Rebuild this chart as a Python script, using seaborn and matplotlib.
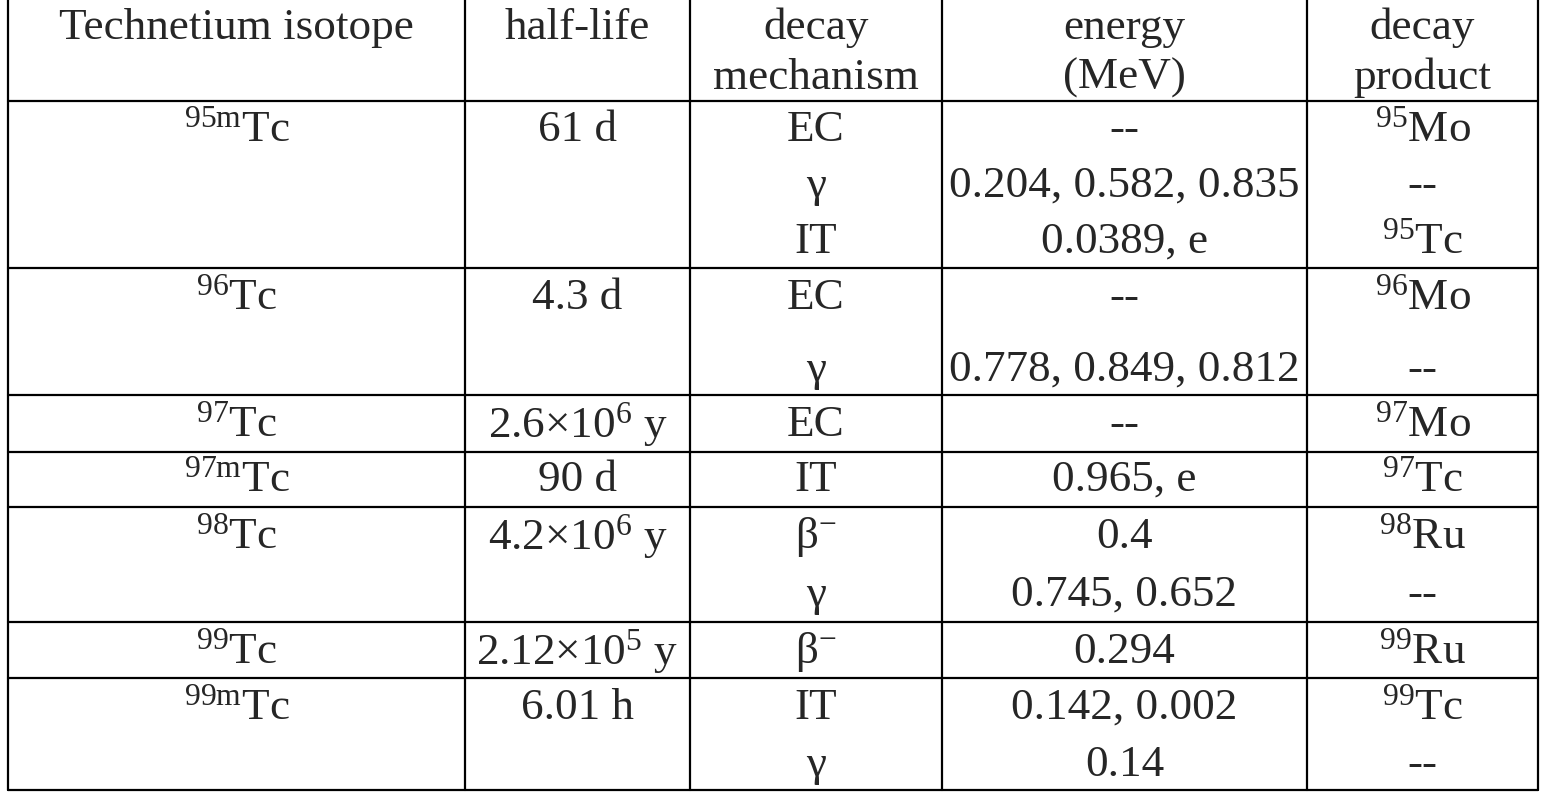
import matplotlib.pyplot as plt
import seaborn as sns

sns.set_theme(style="white")
plt.rcParams["font.family"] = ["Liberation Serif", "DejaVu Serif"]
plt.rcParams["mathtext.fontset"] = "custom"
plt.rcParams["mathtext.rm"] = "Liberation Serif"
plt.rcParams["mathtext.it"] = "Liberation Serif"

headers = [["Technetium isotope"], ["half-life"], ["decay", "mechanism"],
           ["energy", "(MeV)"], ["decay", "product"]]

# one entry per text line; "" = empty cell
isotopes = [r"$^{\mathrm{95m}}$Tc", "", "", "$^{96}$Tc", "", "$^{97}$Tc",
            r"$^{\mathrm{97m}}$Tc", "$^{98}$Tc", "", "$^{99}$Tc",
            r"$^{\mathrm{99m}}$Tc", ""]
half_lives = ["61 d", "", "", "4.3 d", "", "2.6×10$^{6}$ y", "90 d",
              "4.2×10$^{6}$ y", "", "2.12×10$^{5}$ y", "6.01 h", ""]
mechanisms = ["EC", "γ", "IT", "EC", "γ", "EC", "IT", "β$^{-}$", "γ",
              "β$^{-}$", "IT", "γ"]
energies = ["--", "0.204, 0.582, 0.835", "0.0389, e", "--",
            "0.778, 0.849, 0.812", "--", "0.965, e", "0.4", "0.745, 0.652",
            "0.294", "0.142, 0.002", "0.14"]
products = ["$^{95}$Mo", "--", "$^{95}$Tc", "$^{96}$Mo", "--", "$^{97}$Mo",
            "$^{97}$Tc", "$^{98}$Ru", "--", "$^{99}$Ru", "$^{99}$Tc", "--"]

# layout (pixels)
col_edges = [8, 465, 690, 942, 1307, 1538]
row_lines = [101, 268, 395, 452, 507, 622, 678, 790]
line_y = [130, 186, 242, 298, 370, 425, 480, 537, 595, 652, 708, 765]

fig = plt.figure(figsize=(15.49, 8.02), dpi=100)
ax = fig.add_axes([0, 0, 1, 1])
ax.set_xlim(0, 1549)
ax.set_ylim(802, 0)
ax.axis("off")

lw = 1.6
for x in col_edges:
    ax.plot([x, x], [0, row_lines[-1]], color="black", lw=lw)
for y in row_lines:
    ax.plot([col_edges[0], col_edges[-1]], [y, y], color="black", lw=lw)

fs = 32.5
centers = [(a + b) / 2 for a, b in zip(col_edges[:-1], col_edges[1:])]
for cx, lines in zip(centers, headers):
    ys = [28] if len(lines) == 1 else [28, 78]
    for y, t in zip(ys, lines):
        ax.text(cx, y, t, ha="center", va="center", fontsize=fs)

for cx, col in zip(centers, [isotopes, half_lives, mechanisms, energies, products]):
    for y, t in zip(line_y, col):
        if t:
            ax.text(cx, y, t, ha="center", va="center", fontsize=fs)

fig.savefig("out.png", dpi=100, facecolor="white")
